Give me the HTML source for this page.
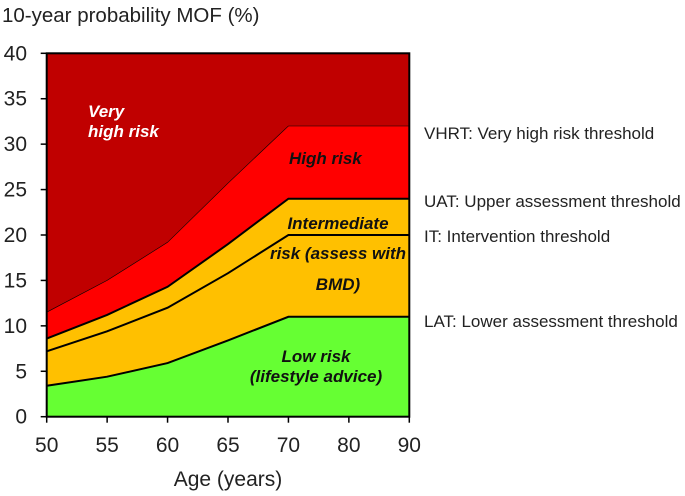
<!DOCTYPE html>
<html><head><meta charset="utf-8"><style>
body{margin:0;background:#fff;}
svg{display:block;font-family:"Liberation Sans",sans-serif;}
</style></head><body>
<svg width="685" height="496" viewBox="0 0 685 496">
<text x="2" y="22" font-size="20.5" fill="#222">10-year probability MOF (%)</text>
<g id="areas"></g>
<g id="lines"></g>
<g id="axes"></g>
<g font-weight="bold" font-style="italic" font-size="17">
<text x="88" y="117" fill="#fff">Very</text>
<text x="88" y="137" fill="#fff">high risk</text>
<text x="289" y="164" fill="#111">High risk</text>
<text x="338" y="229" text-anchor="middle" fill="#111">Intermediate</text>
<text x="338" y="259" text-anchor="middle" fill="#111">risk (assess with</text>
<text x="338" y="290" text-anchor="middle" fill="#111">BMD)</text>
<text x="316" y="362" text-anchor="middle" fill="#111">Low risk</text>
<text x="316" y="382" text-anchor="middle" fill="#111">(lifestyle advice)</text>
</g>
<g font-size="17" fill="#222">
<text x="424" y="139">VHRT: Very high risk threshold</text>
<text x="424" y="207">UAT: Upper assessment threshold</text>
<text x="424" y="242">IT: Intervention threshold</text>
<text x="424" y="327">LAT: Lower assessment threshold</text>
</g>
<text x="228" y="486" text-anchor="middle" font-size="21" fill="#222">Age (years)</text>
</svg>
<script>
const ages=["50","55","60","65","70","80","90"];
const lat=[3.4,4.4,5.9,8.4,11,11,11];
const it=[7.2,9.4,12.0,15.8,20,20,20];
const uat=[8.6,11.2,14.3,19.0,24,24,24];
const vhrt=[11.5,15.0,19.2,25.7,32,32,32];
const yTicks=[0,5,10,15,20,25,30,35,40];
const yMax=40;
const NS="http://www.w3.org/2000/svg";
const x0=46.7,x1=409.3,y0=416.7,y1=53.3;
function xs(i){return x0+i*(x1-x0)/(ages.length-1);}
function ys(v){return y0-(v/yMax)*(y0-y1);}
function pts(arr){return arr.map((v,i)=>xs(i).toFixed(1)+","+ys(v).toFixed(1));}
function mk(tag,attrs,parent){const e=document.createElementNS(NS,tag);for(const k in attrs)e.setAttribute(k,attrs[k]);document.getElementById(parent).appendChild(e);return e;}
const floorArr=ages.map(()=>0),ceilArr=ages.map(()=>yMax);
const bands=[[floorArr,lat,"#66ff33","low-risk-area"],[lat,uat,"#ffc000","intermediate-risk-area"],[uat,vhrt,"#ff0000","high-risk-area"],[vhrt,ceilArr,"#c00000","very-high-risk-area"]];
bands.forEach(b=>{
  const p=pts(b[1]).concat(pts(b[0]).reverse()).join(" ");
  const e=mk("polygon",{points:p,fill:b[2]},"areas");
  
  
});
[[lat,"lat-line",2],[it,"it-line",2],[uat,"uat-line",2],[vhrt,"vhrt-line",0.6]].forEach(l=>{
  const e=mk("polyline",{points:pts(l[0]).join(" "),fill:"none",stroke:"#000","stroke-width":l[2]},"lines");
  
  
});
let fr=mk("rect",{x:x0,y:y1,width:x1-x0,height:y0-y1,fill:"none",stroke:"#000","stroke-width":2},"axes");


yTicks.forEach(t=>{
  let l=mk("line",{x1:x0-6,x2:x0,y1:ys(t),y2:ys(t),stroke:"#000","stroke-width":1.5},"axes");
  
  
  let tx=mk("text",{x:27,y:ys(t)+7,"text-anchor":"end","font-size":21,fill:"#222"},"axes");
  tx.textContent=t;
  
  
});
ages.forEach((a,i)=>{
  let l=mk("line",{x1:xs(i),x2:xs(i),y1:y0,y2:y0+6,stroke:"#000","stroke-width":1.5},"axes");
  
  
  let tx=mk("text",{x:xs(i),y:452,"text-anchor":"middle","font-size":21,fill:"#222"},"axes");
  tx.textContent=a;
  
  
});
</script>
</body></html>
